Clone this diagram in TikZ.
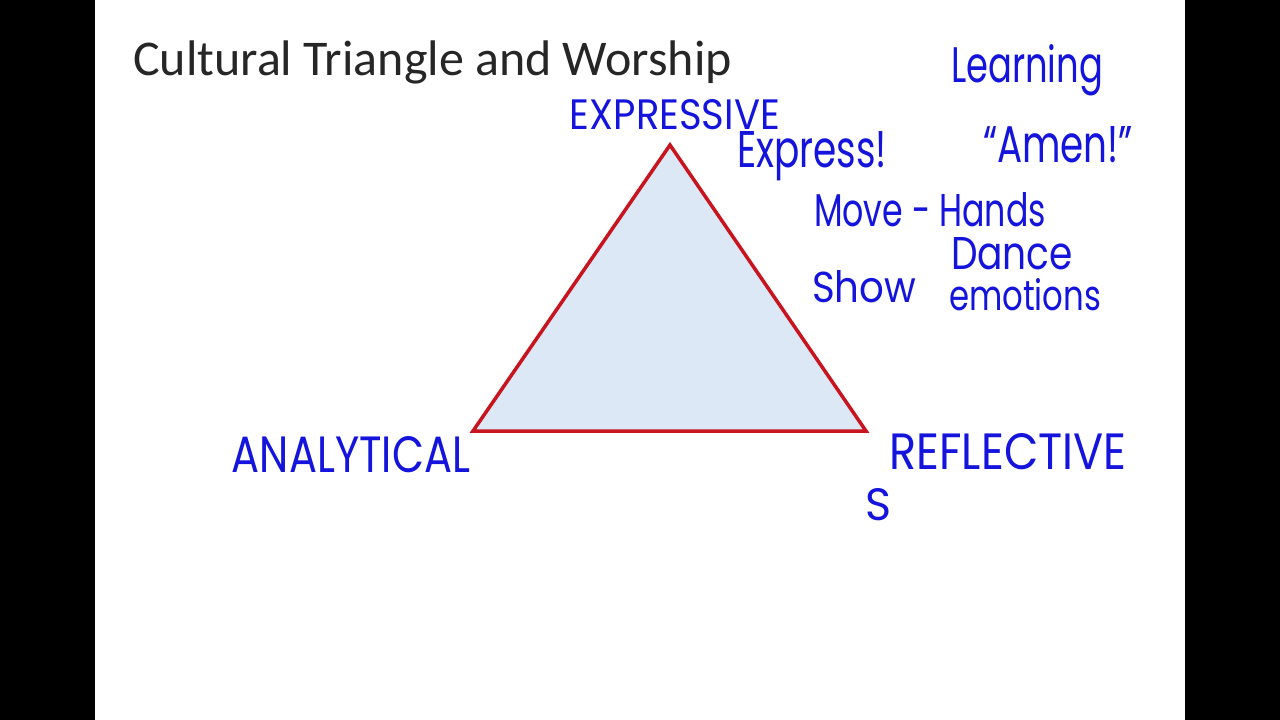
\documentclass[tikz,border=0pt]{standalone}
\usepackage{fontspec}
\setmainfont{Carlito}
\newfontfamily\hand{Poppins}
\definecolor{ink}{RGB}{20,20,220}
\definecolor{tri}{RGB}{200,20,30}
\definecolor{trifill}{RGB}{220,232,246}
\newcommand{\hw}[2]{\resizebox{#1pt}{!}{#2}}
\begin{document}
\begin{tikzpicture}[x=1pt,y=-1pt,
  hw/.style={text=ink,font=\hand\fontsize{34}{34}\selectfont,inner sep=0pt,anchor=center}]
\useasboundingbox (0,0) rectangle (1280,720);
\fill[black] (0,0) rectangle (1280,720);
\fill[white] (95,0) rectangle (1185,720);
\node[anchor=west,font=\fontsize{50}{50}\selectfont,text=black!85,inner sep=0pt] (title) at (133,62) {Cultural Triangle and Worship};
\coordinate (A) at (670,145);
\coordinate (B) at (473,431);
\coordinate (C) at (866,431);
\draw[tri,fill=trifill,line width=3.5pt] (A) -- (B) -- (C) -- cycle;
\node[hw] (ex) at (675,115) {\resizebox{210pt}{30pt}{EXPRESSIVE}};
\node[hw] (exs) at (812,156) {\resizebox{150pt}{36pt}{Express!}};
\node[hw] (lrn) at (1027,70) {\resizebox{152pt}{38pt}{Learning}};
\node[hw] (amen) at (1058,145) {\resizebox{150pt}{36pt}{“Amen!”}};
\node[hw] (move) at (930,210) {\resizebox{232pt}{34pt}{Move - Hands}};
\node[hw] (dance) at (1012,254) {\resizebox{122pt}{32pt}{Dance}};
\node[hw] (show) at (864,287) {\resizebox{104pt}{32pt}{Show}};
\node[hw] (emo) at (1025,295) {\resizebox{152pt}{32pt}{emotions}};
\node[hw] (an) at (351,455) {\resizebox{238pt}{36pt}{ANALYTICAL}};
\node[hw] (re) at (1008,452) {\resizebox{237pt}{36pt}{REFLECTIVE}};
\node[hw] (s) at (878,505) {\resizebox{26pt}{32pt}{S}};
\end{tikzpicture}
\end{document}
